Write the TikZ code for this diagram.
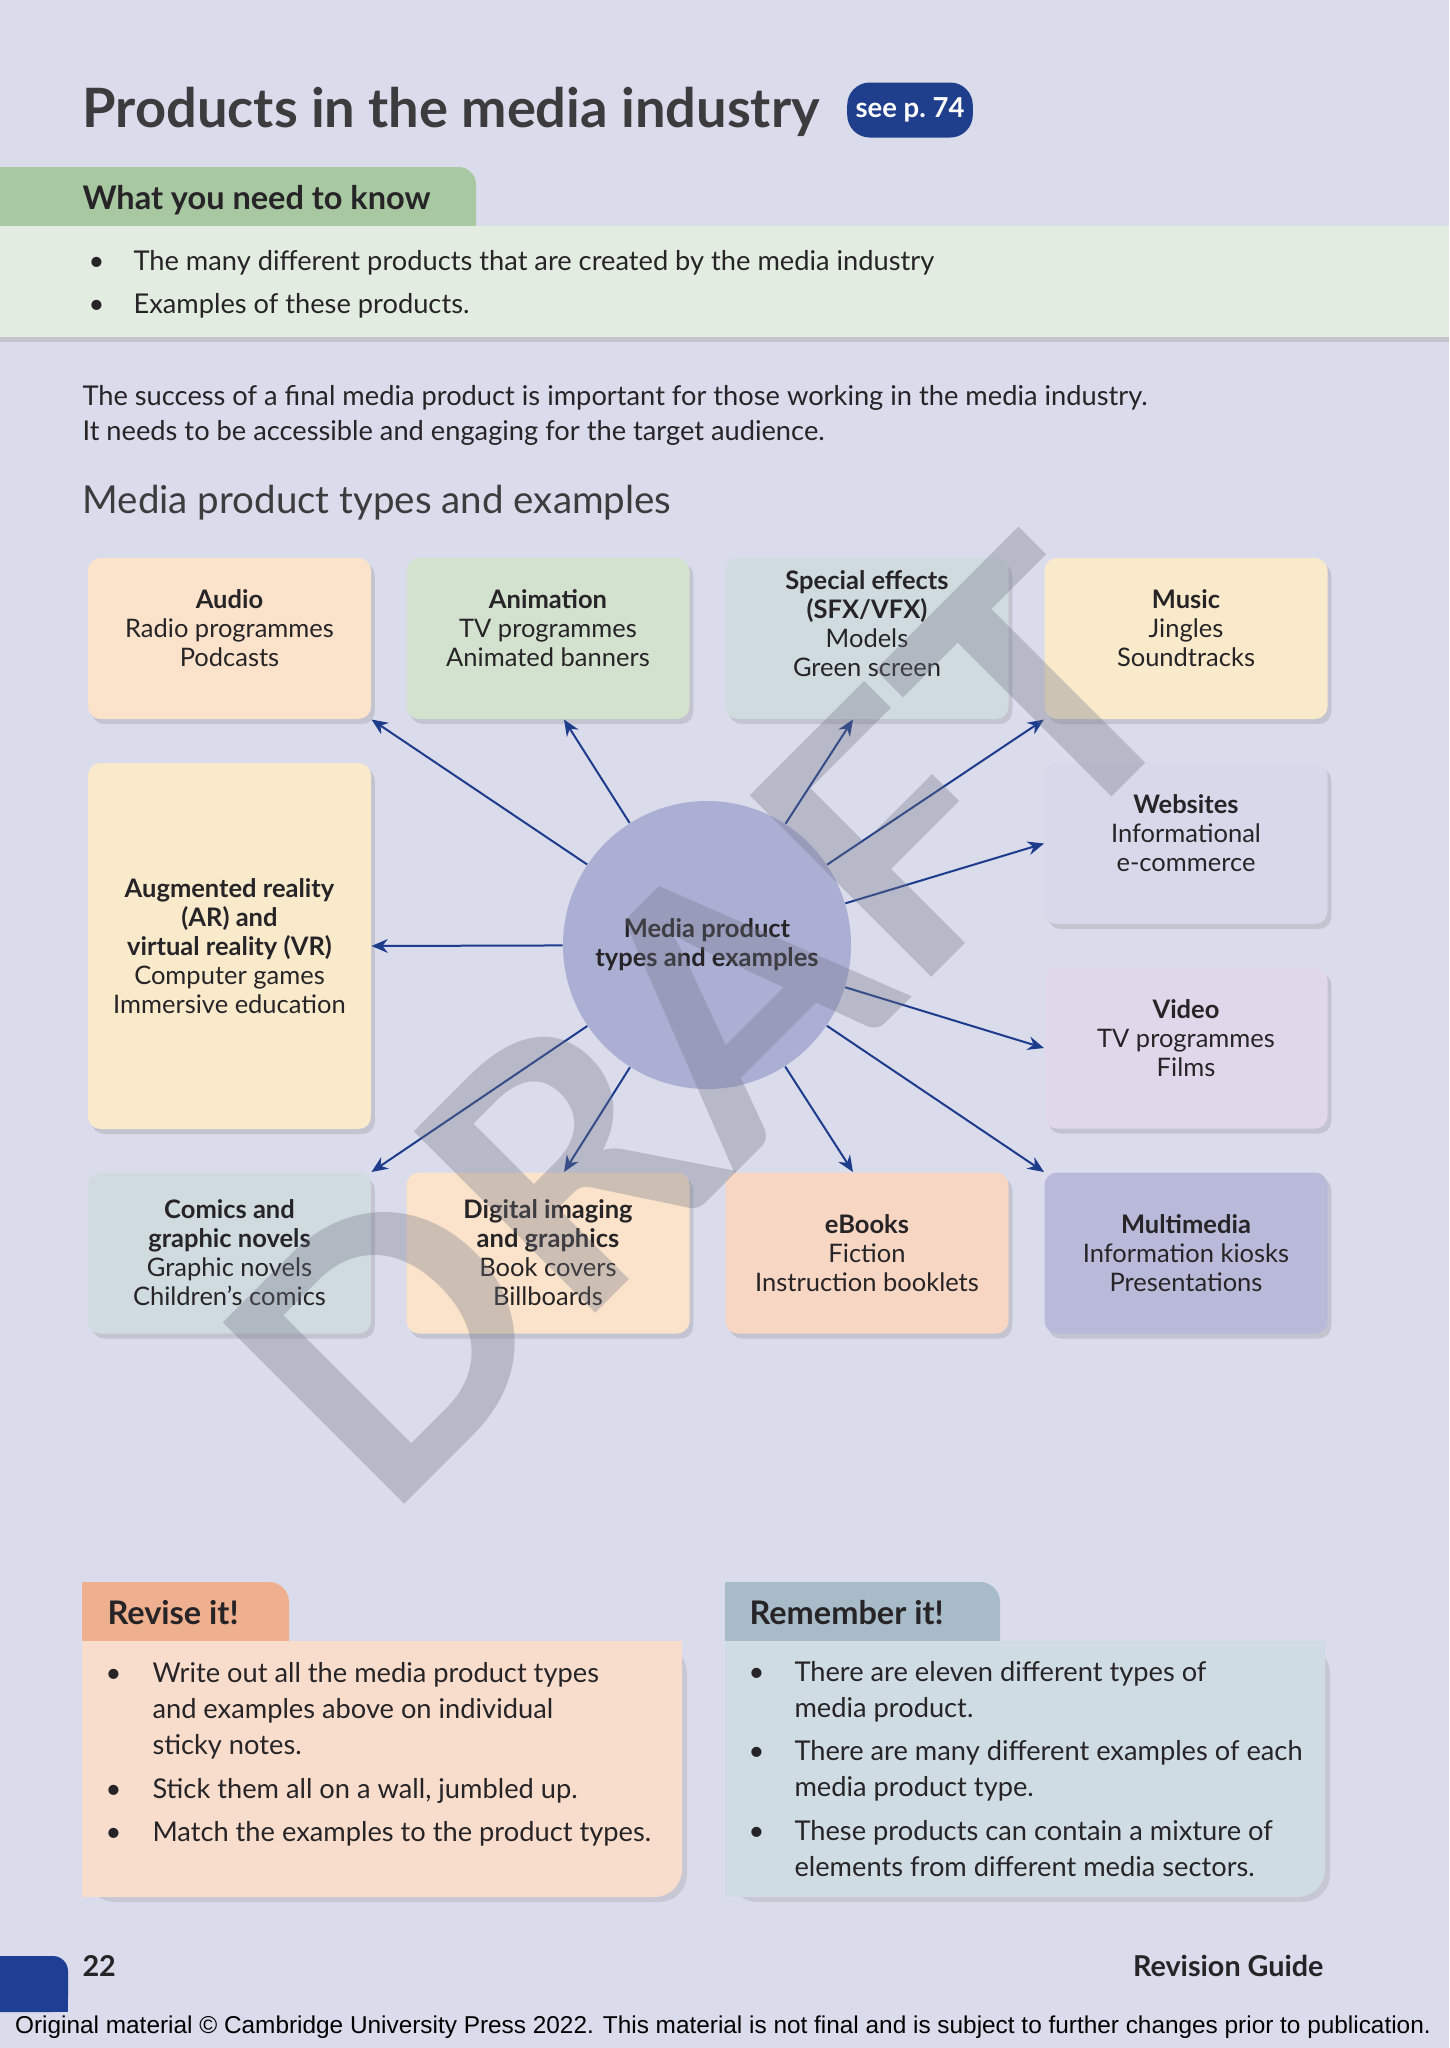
\documentclass[tikz,border=0pt]{standalone}
\usepackage{fontspec}
\setmainfont{Lato}
\newfontfamily\arialfont{Liberation Sans}
\usetikzlibrary{arrows.meta,calc,shadows}

\definecolor{pagebg}{RGB}{218,219,235}
\definecolor{titlegray}{RGB}{60,60,62}
\definecolor{ink}{RGB}{38,36,38}
\definecolor{badgeblue}{RGB}{31,62,140}
\definecolor{knowtab}{RGB}{168,200,162}
\definecolor{knowband}{RGB}{226,236,224}
\definecolor{arrowblue}{RGB}{30,60,140}
\definecolor{hubfill}{RGB}{172,175,212}
\definecolor{audiofill}{RGB}{251,227,203}
\definecolor{animfill}{RGB}{211,225,207}
\definecolor{sfxfill}{RGB}{208,219,224}
\definecolor{musicfill}{RGB}{250,234,204}
\definecolor{webfill}{RGB}{215,216,234}
\definecolor{videofill}{RGB}{224,216,234}
\definecolor{ebookfill}{RGB}{247,214,195}
\definecolor{multifill}{RGB}{185,186,218}
\definecolor{revtab}{RGB}{238,176,142}
\definecolor{revbody}{RGB}{248,221,204}
\definecolor{remtab}{RGB}{168,187,200}
\definecolor{rembody}{RGB}{208,220,227}
\definecolor{footblue}{RGB}{30,63,148}
\definecolor{draftgray}{RGB}{110,114,130}

\begin{document}
\begin{tikzpicture}[x=0.4pt, y=-0.4pt,
		prod/.style = {rectangle, rounded corners=5pt, minimum width=113.2pt, minimum height=64.4pt, align=center, text=ink, font=\fontsize{10.2}{11.6}\selectfont, drop shadow={opacity=.25, shadow xshift=1.5pt, shadow yshift=-2pt}},
		hub/.style = {circle, fill=hubfill, minimum size=115.2pt, inner sep=0pt, align=center, text=ink, font=\bfseries\fontsize{10.2}{11.6}\selectfont},
		arr/.style = {-{Stealth[length=6.5pt, width=5.5pt]}, draw=arrowblue, line width=0.8pt},
		txt/.style = {anchor=base west, inner sep=0pt, text=ink, font=\fontsize{10.9}{14.4}\selectfont},
		itm/.style = {anchor=north west, inner sep=0pt, align=left, text=ink, font=\fontsize{10.9}{14.4}\selectfont},
		hdr/.style = {anchor=base west, inner sep=0pt, text=ink, font=\bfseries\fontsize{13}{15}\selectfont},
		panelshadow/.style = {drop shadow={opacity=.2, shadow xshift=2pt, shadow yshift=-2pt}}
		]
		
		%Page
		\fill[pagebg] (0,0) rectangle (1449,2048);
		\useasboundingbox (0,0) rectangle (1449,2048);
		
		%Title
		\node[anchor=base west, inner sep=0pt, text=titlegray, font=\bfseries\fontsize{21.7}{25}\selectfont] (title) at (82,127) {Products in the media industry};
		\node[fill=badgeblue, rounded corners=9pt, minimum width=49.6pt, minimum height=22pt, text=white, font=\bfseries\fontsize{11}{13}\selectfont] (badge) at (910,110) {see p.\ 74};
		
		%What you need to know
		\fill[knowtab, rounded corners=7pt] (-30,167) rectangle (476,260);
		\fill[knowband, drop shadow={opacity=.25, shadow xshift=0pt, shadow yshift=-2pt}] (0,226) rectangle (1449,337);
		\node[hdr] (know) at (82,209) {What you need to know};
		\node[txt] (kb1) at (88,270) {•};
		\node[txt] (kb2) at (88,313) {•};
		\node[txt] (k1) at (133,270) {The many different products that are created by the media industry};
		\node[txt] (k2) at (133,313) {Examples of these products.};
		
		\node[txt] (p1) at (82,405) {The success of a final media product is important for those working in the media industry.};
		\node[txt] (p2) at (82,440) {It needs to be accessible and engaging for the target audience.};
		\node[anchor=base west, inner sep=0pt, text=titlegray, font=\fontsize{15.4}{18}\selectfont] (sub) at (82,513) {Media product types and examples};
		
		%Nodes
		\node[hub] (hub) at (707,945) {Media product\\types and examples};
		\node[prod, fill=audiofill] (audio) at (229.5,638.5) {\textbf{Audio}\\Radio programmes\\Podcasts\\[-3.4pt]\mbox{}};
		\node[prod, fill=animfill] (anim) at (548,638.5) {\textbf{Animation}\\TV programmes\\Animated banners\\[-3.4pt]\mbox{}};
		\node[prod, fill=sfxfill] (sfx) at (867,638.5) {\textbf{Special effects}\\\textbf{(SFX/VFX)}\\Models\\Green screen\\[0pt]\mbox{}};
		\node[prod, fill=musicfill] (music) at (1186,638.5) {\textbf{Music}\\Jingles\\Soundtracks\\[-3.4pt]\mbox{}};
		\node[prod, fill=webfill] (web) at (1186,843.5) {\textbf{Websites}\\Informational\\e-commerce\\[-3.4pt]\mbox{}};
		\node[prod, fill=videofill] (video) at (1186,1048) {\textbf{Video}\\TV programmes\\Films\\[-3.4pt]\mbox{}};
		\node[prod, fill=musicfill, minimum height=146.4pt] (ar) at (229.5,946) {\textbf{Augmented reality}\\\textbf{(AR) and}\\\textbf{virtual reality (VR)}\\Computer games\\Immersive education};
		\node[prod, fill=sfxfill] (comic) at (229.5,1253) {\textbf{Comics and}\\\textbf{graphic novels}\\Graphic novels\\Children’s comics};
		\node[prod, fill=audiofill] (digi) at (548,1253) {\textbf{Digital imaging}\\\textbf{and graphics}\\Book covers\\Billboards};
		\node[prod, fill=ebookfill] (ebook) at (867,1253) {\textbf{eBooks}\\Fiction\\Instruction booklets};
		\node[prod, fill=multifill] (multi) at (1186,1253) {\textbf{Multimedia}\\Information kiosks\\Presentations};
		
		%Lines
		\draw[arr] (hub) -- (audio.south east);
		\draw[arr] (hub) -- ($(anim.south)+(16,0)$);
		\draw[arr] (hub) -- ($(sfx.south)+(-14,0)$);
		\draw[arr] (hub) -- (music.south west);
		\draw[arr] (hub) -- (web.west);
		\draw[arr] (hub) -- (video.west);
		\draw[arr] (hub) -- (ar.east);
		\draw[arr] (hub) -- (multi.north west);
		\draw[arr] (hub) -- ($(ebook.north)+(-14,0)$);
		\draw[arr] (hub) -- ($(digi.north)+(16,0)$);
		\draw[arr] (hub) -- (comic.north east);
		
		%Revise it
		\fill[revtab, rounded corners=8pt] (82,1582) rectangle (289,1680);
		\fill[revtab] (82,1582) rectangle (200,1641);
		\fill[revbody, rounded corners=11pt, panelshadow] (82,1641) rectangle (682,1897);
		\fill[revbody] (82,1641) rectangle (682,1860);
		\fill[revbody] (82,1641) rectangle (640,1897);
		\node[hdr] (rev) at (107,1624) {Revise it!};
		\foreach \y [count=\i] in {1682,1798,1841}
			\node[txt] (rb\i) at (105,\y) {•};
		\node[itm] (r1) at (152,1657) {\strut Write out all the media product types\\and examples above on individual\\sticky notes.};
		\node[itm] (r2) at (152,1773) {\strut Stick them all on a wall, jumbled up.};
		\node[itm] (r3) at (152,1816) {\strut Match the examples to the product types.};
		
		%Remember it
		\fill[remtab, rounded corners=8pt] (725,1582) rectangle (1000,1680);
		\fill[remtab] (725,1582) rectangle (900,1641);
		\fill[rembody, rounded corners=11pt, panelshadow] (725,1641) rectangle (1325,1897);
		\fill[rembody] (725,1641) rectangle (1325,1860);
		\fill[rembody] (725,1641) rectangle (1283,1897);
		\node[hdr] (rem) at (749,1624) {Remember it!};
		\foreach \y [count=\i] in {1681,1760,1840}
			\node[txt] (mb\i) at (748,\y) {•};
		\node[itm] (m1) at (794,1656) {\strut There are eleven different types of\\media product.};
		\node[itm] (m2) at (794,1735) {\strut There are many different examples of each\\media product type.};
		\node[itm] (m3) at (794,1815) {\strut These products can contain a mixture of\\elements from different media sectors.};
		
		%Footer
		\fill[footblue, rounded corners=6pt] (-30,1956) rectangle (68,2012);
		\fill[footblue] (-30,1990) rectangle (68,2012);
		\node[anchor=base west, inner sep=0pt, text=ink, font=\bfseries\fontsize{11.5}{13}\selectfont] (pg) at (82,1976) {22};
		\node[anchor=base east, inner sep=0pt, text=ink, font=\bfseries\fontsize{11.5}{13}\selectfont] (guide) at (1324,1976) {Revision Guide};
		\node[anchor=base, inner sep=0pt, text=black, font=\arialfont\fontsize{9.75}{11}\selectfont] (copy) at (723,2033) {Original material © Cambridge University Press 2022. This material is not final and is subject to further changes prior to publication.};
		
		%Watermark
		\node[rotate=45, anchor=base west, inner sep=0pt, text=draftgray, opacity=.32, font=\bfseries\fontsize{142}{142}\selectfont] (draft) at (384,1525) {DRAFT};
	\end{tikzpicture}
\end{document}
